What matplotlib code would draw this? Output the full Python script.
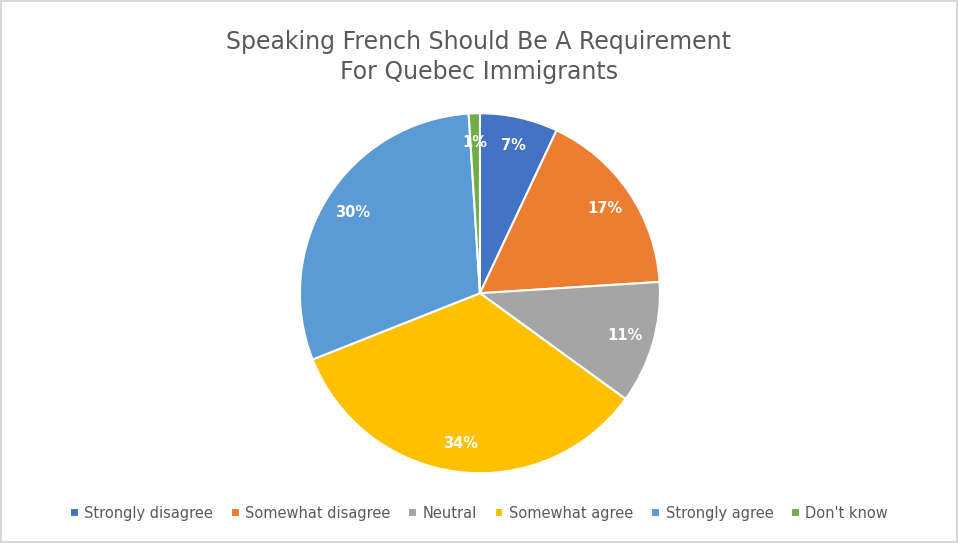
import matplotlib
matplotlib.use("Agg")
import matplotlib.pyplot as plt

categories = ["Strongly disagree", "Somewhat disagree", "Neutral", "Somewhat agree", "Strongly agree", "Don't know"]
values = [7, 17, 11, 34, 30, 1]
colors = ["#4472C4", "#ED7D31", "#A5A5A5", "#FFC000", "#5B9BD5", "#70AD47"]

fig = plt.figure(figsize=(9.58, 5.43), dpi=100)
fig.patch.set_edgecolor("#D9D9D9")
fig.patch.set_linewidth(1.5)
ax = fig.add_axes([0.501 - 0.376/2, 0.46 - 0.663/2, 0.376, 0.663])
wedges, texts, autotexts = ax.pie(values, colors=colors, startangle=90, counterclock=False,
       autopct="%d%%", pctdistance=0.84,
       wedgeprops=dict(edgecolor="white", linewidth=1.5),
       textprops=dict(color="white", fontweight="bold", fontsize=10.5))
ax.set_xlim(-1.0, 1.0)
ax.set_ylim(-1.0, 1.0)
ax.set_aspect("equal")
fig.text(0.5, 0.895, "Speaking French Should Be A Requirement\nFor Quebec Immigrants",
         ha="center", va="center", fontsize=17, color="#595959", linespacing=1.3)
fig.legend(wedges, categories, loc="center", bbox_to_anchor=(0.5, 0.055), ncol=6,
           frameon=False, fontsize=10.5, handlelength=0.6, handleheight=0.6,
           columnspacing=1.2, handletextpad=0.4, labelcolor="#595959")
fig.savefig("out.png", dpi=100, edgecolor=fig.get_edgecolor())
